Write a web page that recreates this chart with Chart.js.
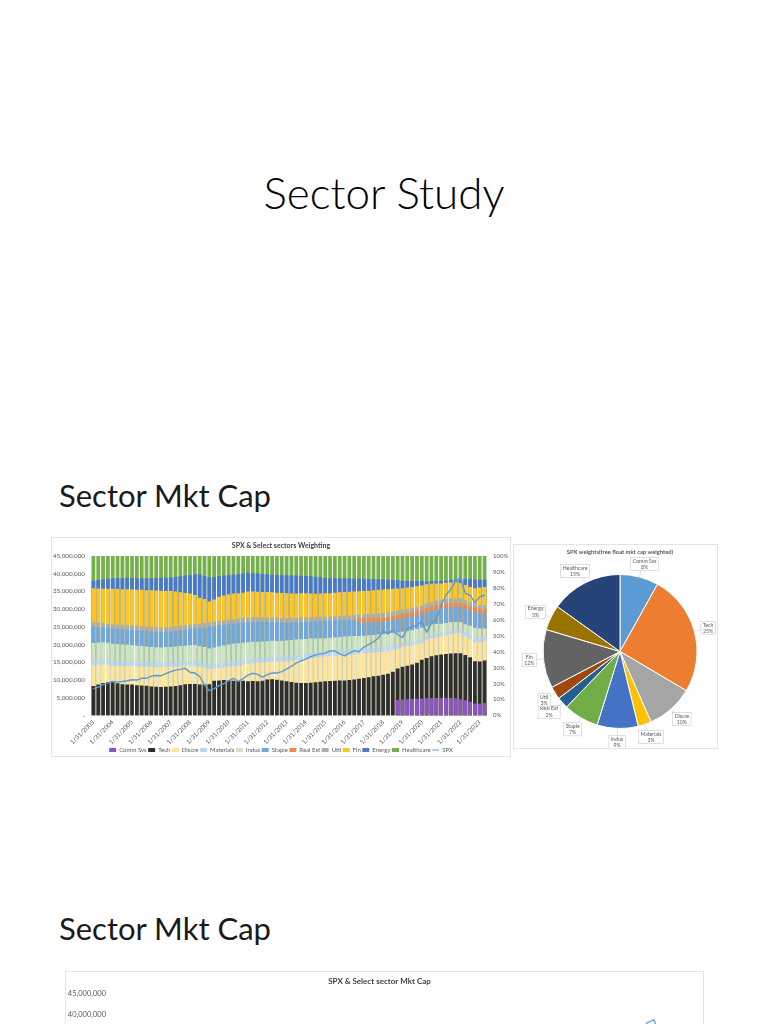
<!DOCTYPE html>
<html>
<head>
<meta charset="utf-8">
<title>Sector Study</title>
<script src="https://cdn.jsdelivr.net/npm/chart.js@4.4.0/dist/chart.umd.min.js"></script>
<style>
  html, body { margin: 0; padding: 0; width: 768px; height: 1024px; overflow: hidden; background: #fff; }
  .slide-title { position: absolute; left: 0; width: 768px; top: 170px; text-align: center;
    font-family: Lato, sans-serif; font-weight: 300; font-size: 44px; line-height: 1; color: #000; }
  .section { position: absolute; left: 59px; font-family: Lato, sans-serif; font-weight: 400;
    font-size: 31px; line-height: 1; color: #1a1a1a; }
  canvas { position: absolute; }
  .frame { position: absolute; border: 1px solid #e4e4e4; box-sizing: border-box; pointer-events: none; }
</style>
</head>
<body>
<div class="slide-title">Sector Study</div>
<div class="section" style="top:480px">Sector Mkt Cap</div>
<div class="section" style="top:913px">Sector Mkt Cap</div>

<canvas id="weightChart" width="458" height="225" style="left:52px;top:538px"></canvas>
<canvas id="pieChart" width="203" height="203" style="left:514px;top:545px"></canvas>
<canvas id="capChart" width="637" height="251" style="left:66px;top:972px"></canvas>
<div class="frame" style="left:51px;top:537px;width:460px;height:220px"></div>
<div class="frame" style="left:513px;top:544px;width:205px;height:205px"></div>
<div class="frame" style="left:65px;top:971px;width:639px;height:253px"></div>

<script>
// x axis: quarter ends, Jan 2003 .. Apr 2023
var years = [2003, 2004, 2005, 2006, 2007, 2008, 2009, 2010, 2011, 2012, 2013,
             2014, 2015, 2016, 2017, 2018, 2019, 2020, 2021, 2022, 2023];
var quarterEnds = ['1/31', '4/30', '7/31', '10/31'];

var sectorNames = ['Comm Svs', 'Tech', 'Discre', 'Materials', 'Indus', 'Staple',
                   'Real Est', 'Util', 'Fin', 'Energy', 'Healthcare'];
var barColors = ['#8b55c0', '#2e2e2e', '#FFE59A', '#BDD7EE', '#CFE5C0', '#6FA8DC',
                 '#F08A48', '#ADADAD', '#FFC524', '#4A78CC', '#74B04C'];

// top edge of each band in the weighting chart (% of SPX), read bottom to top
var commTop = [
  0, 0, 0, 0,  0, 0, 0, 0,  0, 0, 0, 0,  0, 0, 0, 0,  0, 0, 0, 0,
  0, 0, 0, 0,  0, 0, 0, 0,  0, 0, 0, 0,  0, 0, 0, 0,  0, 0, 0, 0,
  0, 0, 0, 0,  0, 0, 0, 0,  0, 0, 0, 0,  0, 0, 0, 0,  0, 0, 0, 0,
  0, 0, 0, 9.8,
  10.0, 10.2, 10.3, 10.5,
  10.6, 10.8, 11.0, 11.0,
  11.0, 11.1, 11.0, 10.8,
  10.2, 9.5, 8.6, 7.5,
  7.4, 7.9
];
var techTop = [
  18.5, 19.5, 20.3, 21.0,
  21.0, 20.2, 19.6, 19.4,
  19.5, 19.0, 18.8, 18.6,
  18.2, 18.0, 17.8, 18.0,
  18.2, 18.5, 19.0, 19.6,
  19.8, 19.8, 19.5, 19.4,
  19.6, 21.8, 22.0, 22.2,
  22.0, 21.8, 21.6, 21.8,
  21.5, 21.6, 21.4, 21.8,
  22.5, 22.8, 22.4, 22.0,
  21.5, 21.0, 20.6, 20.4,
  20.3, 20.6, 20.9, 21.2,
  21.5, 21.6, 21.8, 21.9,
  22.0, 22.2, 22.6, 23.0,
  23.5, 24.0, 24.6, 25.0,
  25.5, 26.2, 27.5, 29.5,
  30.5, 31.2, 32.0, 33.0,
  35.0, 36.0, 37.2, 37.8,
  38.3, 38.6, 38.8, 39.0,
  39.0, 38.0, 36.5, 34.0,
  33.8, 34.5
];
var discreTop = [
  31.5, 31.8, 32.0, 31.8,
  31.5, 31.2, 31.0, 31.0,
  31.0, 30.8, 30.6, 30.5,
  30.5, 30.3, 30.2, 30.4,
  30.5, 30.6, 30.8, 31.0,
  31.0, 31.0, 30.5, 30.0,
  29.0, 29.5, 30.0, 30.2,
  30.5, 31.0, 31.4, 31.8,
  32.5, 32.8, 33.0, 33.2,
  33.5, 33.8, 33.6, 33.8,
  34.0, 34.3, 34.6, 35.0,
  35.5, 35.8, 36.2, 36.6,
  37.0, 37.2, 37.5, 37.8,
  38.0, 38.2, 38.4, 38.7,
  39.0, 39.2, 39.5, 39.8,
  40.0, 40.6, 41.2, 41.8,
  43.0, 43.5, 44.0, 44.6,
  45.5, 47.0, 48.5, 49.0,
  49.5, 50.2, 51.0, 51.5,
  51.5, 49.5, 48.0, 46.0,
  46.0, 46.8
];
var materialsTop = [
  34.5, 34.8, 35.0, 34.8,
  34.5, 34.2, 34.0, 34.0,
  34.0, 33.8, 33.6, 33.5,
  33.5, 33.3, 33.2, 33.4,
  33.5, 33.7, 34.0, 34.2,
  34.0, 34.2, 33.6, 33.0,
  32.0, 32.3, 32.8, 33.1,
  33.5, 34.0, 34.4, 34.8,
  35.5, 35.8, 36.0, 36.2,
  36.5, 36.8, 36.6, 36.8,
  37.0, 37.4, 37.7, 38.1,
  38.5, 38.9, 39.3, 39.6,
  40.0, 40.2, 40.5, 40.8,
  41.0, 41.3, 41.5, 41.8,
  42.0, 42.3, 42.6, 42.8,
  43.0, 43.6, 44.2, 44.6,
  45.5, 46.0, 46.5, 47.1,
  48.0, 49.5, 51.0, 51.6,
  52.0, 52.8, 53.6, 54.0,
  54.0, 52.2, 50.7, 48.8,
  48.7, 49.5
];
var indusTop = [
  45.5, 45.8, 46.0, 45.6,
  45.0, 44.8, 44.5, 44.3,
  44.0, 43.8, 43.6, 43.3,
  43.0, 42.8, 42.7, 42.9,
  43.0, 43.3, 43.6, 43.8,
  44.0, 44.2, 43.6, 43.0,
  42.0, 42.6, 43.3, 43.9,
  44.5, 45.0, 45.3, 45.6,
  46.0, 46.3, 46.2, 46.4,
  46.5, 46.8, 46.7, 46.9,
  47.0, 47.3, 47.6, 47.8,
  48.0, 48.2, 48.3, 48.4,
  48.5, 48.7, 48.9, 49.2,
  49.5, 49.7, 49.8, 49.9,
  50.0, 50.3, 50.5, 50.8,
  51.0, 51.4, 51.8, 52.0,
  52.5, 53.0, 53.5, 54.2,
  55.0, 56.0, 57.0, 57.3,
  57.5, 58.0, 58.4, 58.6,
  58.5, 57.2, 56.3, 55.0,
  54.5, 54.5
];
var stapleTop = [
  55.7, 55.5, 55.2, 54.8,
  54.4, 54.2, 54.0, 53.8,
  53.7, 53.4, 53.2, 52.9,
  52.7, 52.5, 52.4, 52.6,
  52.7, 53.0, 53.4, 53.8,
  54.2, 54.5, 54.7, 55.2,
  55.7, 56.0, 56.5, 56.8,
  57.2, 57.6, 58.0, 58.3,
  58.7, 58.8, 59.0, 58.8,
  58.7, 58.6, 58.5, 58.4,
  58.2, 58.3, 58.4, 58.6,
  58.7, 58.8, 59.0, 59.1,
  59.2, 59.3, 59.5, 59.6,
  59.7, 59.9, 60.1, 58.1,
  58.4, 58.5, 58.7, 58.8,
  59.0, 59.4, 59.8, 60.4,
  61.3, 61.8, 62.4, 63.0,
  63.8, 64.8, 65.8, 66.6,
  67.2, 67.7, 68.0, 68.1,
  68.1, 67.1, 66.0, 65.0,
  64.1, 63.9
];
var realEstTop = [
  0, 0, 0, 0,  0, 0, 0, 0,  0, 0, 0, 0,  0, 0, 0, 0,  0, 0, 0, 0,
  0, 0, 0, 0,  0, 0, 0, 0,  0, 0, 0, 0,  0, 0, 0, 0,  0, 0, 0, 0,
  0, 0, 0, 0,  0, 0, 0, 0,  0, 0, 0, 0,
  0, 0, 0, 60.6,
  60.9, 61.0, 61.2, 61.3,
  61.5, 61.9, 62.3, 62.9,
  63.8, 64.3, 64.9, 65.5,
  66.3, 67.3, 68.3, 69.1,
  69.7, 70.2, 70.5, 70.6,
  70.6, 69.6, 68.5, 67.5,
  66.6, 66.4
];
var utilTop = [
  58.5, 58.3, 58.0, 57.6,
  57.2, 57.0, 56.8, 56.6,
  56.5, 56.2, 56.0, 55.7,
  55.5, 55.3, 55.2, 55.4,
  55.5, 55.8, 56.2, 56.6,
  57.0, 57.3, 57.5, 58.0,
  58.5, 58.8, 59.3, 59.6,
  60.0, 60.4, 60.8, 61.1,
  61.5, 61.6, 61.8, 61.6,
  61.5, 61.4, 61.3, 61.2,
  61.0, 61.1, 61.2, 61.4,
  61.5, 61.6, 61.8, 61.9,
  62.0, 62.1, 62.3, 62.4,
  62.5, 62.7, 62.9, 63.2,
  63.5, 63.6, 63.8, 63.9,
  64.2, 64.6, 65.0, 65.6,
  66.5, 67.0, 67.6, 68.2,
  69.0, 70.0, 71.0, 71.8,
  72.5, 73.0, 73.3, 73.4,
  73.4, 72.3, 71.2, 70.2,
  69.3, 69.1
];
var finTop = [
  79.8, 79.6, 79.5, 79.5,
  79.5, 79.3, 79.2, 79.1,
  79.0, 78.8, 78.8, 78.6,
  78.5, 78.3, 78.2, 78.1,
  78.0, 77.8, 77.2, 76.8,
  76.5, 75.5, 73.8, 73.0,
  71.5, 72.8, 74.5, 75.2,
  76.0, 76.5, 76.6, 77.0,
  77.8, 77.8, 77.6, 77.4,
  77.5, 77.3, 77.0, 76.8,
  76.6, 76.5, 76.5, 76.6,
  76.6, 76.5, 76.4, 76.5,
  76.6, 76.7, 76.9, 77.2,
  77.5, 77.6, 77.8, 77.9,
  78.0, 78.2, 78.5, 78.8,
  79.0, 79.2, 79.4, 79.6,
  79.8, 80.2, 80.6, 81.0,
  81.5, 82.3, 82.6, 82.7,
  82.8, 83.2, 83.4, 83.5,
  83.0, 81.8, 80.5, 79.8,
  80.2, 80.6
];
var energyTop = [
  84.5, 85.0, 85.4, 85.8,
  86.0, 86.2, 86.2, 86.3,
  86.2, 86.0, 86.1, 86.0,
  86.0, 86.2, 86.3, 86.4,
  86.5, 86.8, 87.3, 87.8,
  88.0, 88.5, 88.6, 87.5,
  86.5, 86.8, 87.5, 87.8,
  88.0, 88.3, 88.6, 89.0,
  89.4, 89.2, 89.0, 88.7,
  88.5, 88.3, 88.1, 88.0,
  87.9, 87.8, 87.7, 87.6,
  87.5, 87.3, 87.0, 86.6,
  86.2, 86.1, 86.0, 86.0,
  86.0, 85.9, 85.8, 85.8,
  85.7, 85.6, 85.6, 85.5,
  85.5, 85.3, 85.0, 84.8,
  84.5, 84.4, 84.4, 84.3,
  84.3, 84.2, 84.3, 84.2,
  84.3, 84.7, 85.0, 85.2,
  85.5, 85.6, 85.4, 85.2,
  85.1, 85.2
];
var healthTop = [
  100, 100, 100, 100,  100, 100, 100, 100,  100, 100, 100, 100,  100, 100, 100, 100,
  100, 100, 100, 100,  100, 100, 100, 100,  100, 100, 100, 100,  100, 100, 100, 100,
  100, 100, 100, 100,  100, 100, 100, 100,  100, 100, 100, 100,  100, 100, 100, 100,
  100, 100, 100, 100,  100, 100, 100, 100,  100, 100, 100, 100,  100, 100, 100, 100,
  100, 100, 100, 100,  100, 100, 100, 100,  100, 100, 100, 100,  100, 100, 100, 100,
  100, 100
];

// SPX total market cap (left axis)
var spxMktCap = [
  7500000, 8000000, 8700000, 9200000,
  9600000, 9500000, 9600000, 9800000,
  10100000, 10000000, 10500000, 10500000,
  11100000, 11300000, 11200000, 11800000,
  12400000, 12800000, 13000000, 13300000,
  12200000, 12000000, 11000000, 8600000,
  7000000, 7600000, 8400000, 9000000,
  9800000, 10500000, 9600000, 10400000,
  11400000, 11900000, 11600000, 10800000,
  11500000, 12000000, 12000000, 12400000,
  13100000, 13900000, 14800000, 15400000,
  15900000, 16600000, 17100000, 17400000,
  17600000, 18200000, 18200000, 17400000,
  16800000, 17600000, 18300000, 18000000,
  19300000, 20000000, 20800000, 21800000,
  24000000, 23000000, 24200000, 22800000,
  22000000, 24500000, 25000000, 25500000,
  26500000, 23500000, 26000000, 27000000,
  31000000, 34000000, 35500000, 38000000,
  38800000, 34500000, 34000000, 31800000,
  33500000, 34000000
];

// pie: SPX weights (free float mkt cap weighted), %
var pieWeights = [8.1, 25.4, 9.9, 2.8, 8.6, 7.4, 2.4, 2.7, 12.3, 5.3, 15.1];
var pieColors = ['#5B9BD5', '#ED7D31', '#A5A5A5', '#FFC000', '#4472C4', '#70AD47',
                 '#255E91', '#9E480E', '#636363', '#997300', '#264478'];

var dates = [];
years.forEach(function (y) {
  quarterEnds.forEach(function (q) { dates.push(q + '/' + y); });
});
dates = dates.slice(0, spxMktCap.length);

Chart.defaults.font.family = 'Lato, sans-serif';
Chart.defaults.color = '#595959';
Chart.defaults.animation = false;

function moneyTick(v) {
  return v === 0 ? '-' : v.toLocaleString('en-US');
}

// ---- weighting chart ----
var bandTops = [commTop, techTop, discreTop, materialsTop, indusTop, stapleTop,
                realEstTop, utilTop, finTop, energyTop, healthTop];
var weightSets = sectorNames.map(function (name, k) {
  return {
    type: 'bar', label: name, data: bandTops[k], backgroundColor: barColors[k],
    yAxisID: 'y1', order: k + 1, grouped: false,
    categoryPercentage: 0.78, barPercentage: 1, borderWidth: 0
  };
});
weightSets.push({
  type: 'line', label: 'SPX', data: spxMktCap, yAxisID: 'y', order: 0,
  borderColor: '#5B9BD5', backgroundColor: '#5B9BD5', borderWidth: 1.4,
  pointRadius: 0, tension: 0
});

new Chart(document.getElementById('weightChart'), {
  type: 'bar',
  data: { labels: dates, datasets: weightSets },
  options: {
    responsive: false,
    plugins: {
      tooltip: { enabled: false },
      title: {
        display: true, text: 'SPX & Select sectors Weighting', color: '#404040',
        font: { size: 7 }, padding: { top: 4, bottom: 5.6 }
      },
      legend: {
        position: 'bottom',
        labels: {
          usePointStyle: true, pointStyleWidth: 7, boxHeight: 4, padding: 1.5,
          font: { size: 6 }, color: '#595959',
          generateLabels: function (chart) {
            var items = Chart.defaults.plugins.legend.labels.generateLabels(chart);
            items.forEach(function (it) {
              var ds = chart.data.datasets[it.datasetIndex];
              if (ds.type === 'line') {
                it.pointStyle = 'line'; it.lineWidth = 1; it.strokeStyle = '#5B9BD5';
              } else {
                it.pointStyle = 'rect'; it.lineWidth = 0;
              }
            });
            items.sort(function (a, b) { return a.datasetIndex - b.datasetIndex; });
            return items;
          }
        }
      }
    },
    scales: {
      x: {
        grid: { display: false, drawTicks: false }, border: { display: false },
        ticks: {
          autoSkip: false, minRotation: 45, maxRotation: 45, padding: 3,
          font: { size: 6.3 }, color: '#595959',
          callback: function (v, i) { return i % 4 === 0 ? dates[i] : ''; }
        },
        afterFit: function (s) { s.height = 30; }
      },
      y: {
        position: 'left', min: 0, max: 45000000,
        grid: { display: false, drawTicks: false }, border: { display: false },
        ticks: { stepSize: 5000000, padding: 6, font: { size: 6.3 }, color: '#595959', callback: moneyTick },
        afterFit: function (s) { s.width = 39; }
      },
      y1: {
        position: 'right', min: 0, max: 100,
        grid: { display: false, drawTicks: false }, border: { display: false },
        ticks: { stepSize: 10, padding: 6, font: { size: 6 }, color: '#595959',
                 callback: function (v) { return v + '%'; } },
        afterFit: function (s) { s.width = 23; }
      }
    }
  }
});

// ---- pie with boxed callout labels ----
var calloutLabels = {
  id: 'calloutLabels',
  afterDatasetsDraw: function (chart) {
    var ctx = chart.ctx;
    var meta = chart.getDatasetMeta(0);
    ctx.save();
    ctx.font = '5.2px Lato, sans-serif';
    meta.data.forEach(function (arc, i) {
      var mid = (arc.startAngle + arc.endAngle) / 2;
      var dx = Math.cos(mid), dy = Math.sin(mid);
      var r = arc.outerRadius;
      var ax = arc.x + dx * (r + 7), ay = arc.y + dy * (r + 7);
      var lines = [sectorNames[i], Math.round(pieWeights[i]) + '%'];
      var w = Math.max(ctx.measureText(lines[0]).width, ctx.measureText(lines[1]).width) + 4;
      var h = 13;
      var cx = ax + dx * w / 2, cy = ay + dy * h / 2;
      ctx.strokeStyle = '#bfbfbf';
      ctx.lineWidth = 0.5;
      ctx.beginPath();
      ctx.moveTo(arc.x + dx * (r - 2), arc.y + dy * (r - 2));
      ctx.lineTo(ax, ay);
      ctx.stroke();
      ctx.fillStyle = '#fff';
      ctx.fillRect(cx - w / 2, cy - h / 2, w, h);
      ctx.strokeRect(cx - w / 2, cy - h / 2, w, h);
      ctx.fillStyle = '#595959';
      ctx.textAlign = 'center';
      ctx.textBaseline = 'middle';
      ctx.fillText(lines[0], cx, cy - 3);
      ctx.fillText(lines[1], cx, cy + 3.3);
    });
    ctx.restore();
  }
};

new Chart(document.getElementById('pieChart'), {
  type: 'pie',
  data: {
    labels: sectorNames,
    datasets: [{ data: pieWeights, backgroundColor: pieColors, borderColor: '#fff', borderWidth: 1 }]
  },
  options: {
    responsive: false,
    layout: { padding: { left: 28, right: 19, top: 0, bottom: 19 } },
    plugins: {
      legend: { display: false },
      tooltip: { enabled: false },
      title: {
        display: true, text: 'SPX weights(free float mkt cap weighted)', color: '#595959',
        font: { size: 5.8 }, padding: { top: 4, bottom: 18 }
      }
    }
  },
  plugins: [calloutLabels]
});

// ---- mkt cap chart (only its top shows on the page) ----
new Chart(document.getElementById('capChart'), {
  type: 'line',
  data: {
    labels: dates,
    datasets: [{ label: 'SPX', data: spxMktCap, borderColor: '#5B9BD5', borderWidth: 1.2, pointRadius: 0 }]
  },
  options: {
    responsive: false,
    layout: { padding: { right: 10 } },
    plugins: {
      legend: { display: false },
      tooltip: { enabled: false },
      title: {
        display: true, text: 'SPX & Select sector Mkt Cap', color: '#404040',
        font: { size: 8 }, padding: { top: 5, bottom: 7 }
      }
    },
    scales: {
      x: {
        offset: true, grid: { display: false, drawTicks: false }, border: { display: false },
        ticks: { autoSkip: false, minRotation: 45, maxRotation: 45, font: { size: 7 },
                 callback: function (v, i) { return i % 4 === 0 ? dates[i] : ''; } },
        afterFit: function (s) { s.height = 40; }
      },
      y: {
        min: 0, max: 45000000,
        grid: { display: false, drawTicks: false }, border: { display: false },
        ticks: { stepSize: 5000000, padding: 4, font: { size: 7.5 }, color: '#595959', callback: moneyTick },
        afterFit: function (s) { s.width = 44; }
      }
    }
  }
});
</script>
</body>
</html>
